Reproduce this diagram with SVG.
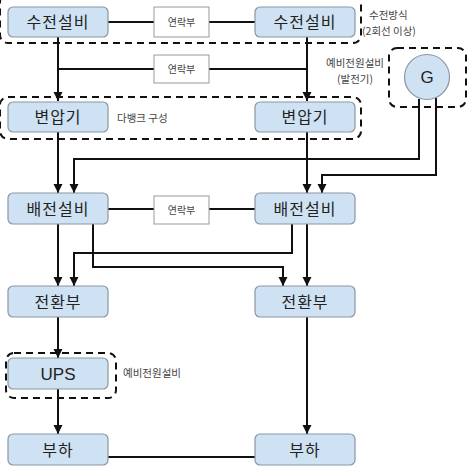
<svg xmlns="http://www.w3.org/2000/svg" width="474" height="474" viewBox="0 0 474 474">
<defs>
<style>
.node{fill:#cfe2f3;stroke:#8a96a3;stroke-width:1.2}
.lbl{font-family:"Noto Sans CJK KR","Liberation Sans",sans-serif;font-size:16px;fill:#222;text-anchor:middle;letter-spacing:1px}
.link{fill:#fff;stroke:#999;stroke-width:1}
.ltxt{font-family:"Noto Sans CJK KR",sans-serif;font-size:10px;fill:#444;text-anchor:middle}
.note{font-family:"Noto Sans CJK KR",sans-serif;font-size:10.5px;fill:#444}
.dash{fill:none;stroke:#111;stroke-width:2;stroke-dasharray:7 5}
.c{fill:none;stroke:#111;stroke-width:2}
</style>
<marker id="ah" viewBox="0 0 10 10" refX="10" refY="5" markerWidth="4.5" markerHeight="5" orient="auto" markerUnits="strokeWidth">
<path d="M0,0 L10,5 L0,10 z" fill="#111"/>
</marker>
</defs>
<rect width="474" height="474" fill="#fff"/>

<g id="groups">
<rect class="dash" x="0" y="-6" width="361" height="49" rx="8"/>
<rect class="dash" x="0" y="97" width="361" height="42" rx="8"/>
<rect class="dash" x="389" y="48" width="77" height="59" rx="8"/>
<rect class="dash" x="6" y="353" width="110" height="45" rx="8"/>
</g>

<g id="connectors">
<line class="c" x1="108" y1="22" x2="154" y2="22"/>
<line class="c" x1="209" y1="22" x2="255" y2="22"/>
<line class="c" x1="58" y1="37" x2="58" y2="101" marker-end="url(#ah)"/>
<line class="c" x1="307" y1="37" x2="307" y2="101" marker-end="url(#ah)"/>
<line class="c" x1="58" y1="69" x2="154" y2="69"/>
<line class="c" x1="209" y1="69" x2="307" y2="69"/>
<line class="c" x1="58" y1="132" x2="58" y2="193" marker-end="url(#ah)"/>
<line class="c" x1="307" y1="132" x2="307" y2="193" marker-end="url(#ah)"/>
<polyline class="c" points="419,99 419,159 74,159 74,193" marker-end="url(#ah)"/>
<polyline class="c" points="436,97 436,175 322,175 322,193" marker-end="url(#ah)"/>
<line class="c" x1="108" y1="209" x2="154" y2="209"/>
<line class="c" x1="209" y1="209" x2="255" y2="209"/>
<line class="c" x1="58" y1="224" x2="58" y2="286" marker-end="url(#ah)"/>
<line class="c" x1="307" y1="224" x2="307" y2="286" marker-end="url(#ah)"/>
<polyline class="c" points="93,224 93,267 283,267 283,286" marker-end="url(#ah)"/>
<polyline class="c" points="292,224 292,253 74,253 74,286" marker-end="url(#ah)"/>
<line class="c" x1="58" y1="317" x2="58" y2="358" marker-end="url(#ah)"/>
<line class="c" x1="58" y1="389" x2="58" y2="434" marker-end="url(#ah)"/>
<line class="c" x1="307" y1="317" x2="307" y2="434" marker-end="url(#ah)"/>
<line class="c" x1="108" y1="457" x2="255" y2="457"/>
</g>

<g id="n-recv-l"><rect class="node" x="8" y="7" width="100" height="30" rx="5"/><text class="lbl" x="58" y="28">수전설비</text></g>
<g id="n-recv-r"><rect class="node" x="255" y="7" width="100" height="30" rx="5"/><text class="lbl" x="305" y="28">수전설비</text></g>
<g id="n-link1"><rect class="link" x="154" y="7" width="55" height="30"/><text class="ltxt" x="181.5" y="26">연락부</text></g>
<g id="n-link2"><rect class="link" x="154" y="55" width="55" height="28"/><text class="ltxt" x="181.5" y="73">연락부</text></g>
<g id="n-tr-l"><rect class="node" x="8" y="102" width="100" height="30" rx="5"/><text class="lbl" x="58" y="123">변압기</text></g>
<g id="n-tr-r"><rect class="node" x="255" y="102" width="100" height="30" rx="5"/><text class="lbl" x="305" y="123">변압기</text></g>
<g id="n-gen"><circle cx="427" cy="77" r="22.5" fill="#cfe2f3" stroke="#8a96a3" stroke-width="1.2"/><text x="427" y="83" font-family="Liberation Sans,sans-serif" font-size="17" fill="#222" text-anchor="middle">G</text></g>
<g id="n-dist-l"><rect class="node" x="8" y="193" width="100" height="31" rx="5"/><text class="lbl" x="58" y="215">배전설비</text></g>
<g id="n-dist-r"><rect class="node" x="255" y="193" width="100" height="31" rx="5"/><text class="lbl" x="305" y="215">배전설비</text></g>
<g id="n-link3"><rect class="link" x="154" y="196" width="55" height="28"/><text class="ltxt" x="181.5" y="214">연락부</text></g>
<g id="n-sw-l"><rect class="node" x="8" y="286" width="100" height="31" rx="5"/><text class="lbl" x="58" y="308">전환부</text></g>
<g id="n-sw-r"><rect class="node" x="255" y="286" width="100" height="31" rx="5"/><text class="lbl" x="305" y="308">전환부</text></g>
<g id="n-ups"><rect class="node" x="8" y="358" width="100" height="31" rx="5"/><text x="58" y="380" font-family="Liberation Sans,sans-serif" font-size="17" fill="#222" text-anchor="middle">UPS</text></g>
<g id="n-load-l"><rect class="node" x="8" y="434" width="100" height="31" rx="5"/><text class="lbl" x="58" y="456">부하</text></g>
<g id="n-load-r"><rect class="node" x="255" y="434" width="100" height="31" rx="5"/><text class="lbl" x="305" y="456">부하</text></g>

<g id="notes">
<text class="note" x="369" y="19">수전방식</text>
<text class="note" x="362" y="35">(2회선 이상)</text>
<text class="note" x="355" y="67" text-anchor="middle">예비전원설비</text>
<text class="note" x="355" y="83" text-anchor="middle">(발전기)</text>
<text class="note" x="117" y="122">다뱅크 구성</text>
<text class="note" x="123" y="377">예비전원설비</text>
</g>
</svg>
